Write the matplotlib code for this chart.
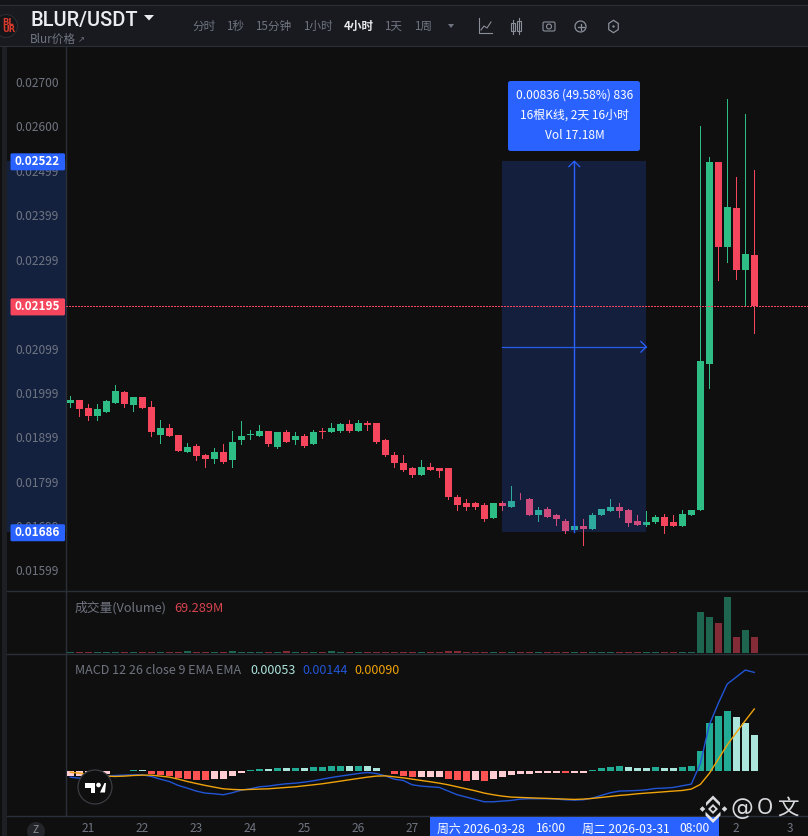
import numpy as np
import matplotlib
matplotlib.use("Agg")
import matplotlib.pyplot as plt
from matplotlib.patches import Rectangle, FancyBboxPatch, Circle, Polygon

plt.rcParams['font.family'] = ['Noto Sans CJK SC', 'DejaVu Sans']

# ---- data (prices in 1e-5 USDT) ----
opens = [1978,1985,1967,1949,1958,1978,2003,1972,1990,1969,1906,1922,1906,1868,1881,1859,1852,1866,1848,1893,
         1906,1904,1915,1879,1911,1893,1902,1884,1915,1911,1915,1929,1915,1933,1933,1893,1859,1843,1830,1816,
         1834,1830,1830,1766,1751,1753,1748,1719,1753,1744,1762,1762,1726,1739,1724,1712,1690,1701,1694,1724,
         1735,1744,1737,1712,1703,1708,1721,1710,1699,1726,1737,2066,2520,2330,2416,2276,2310]
highs = [1994,1985,1976,1976,1983,2019,2005,1990,1990,1981,1938,1929,1906,1888,1886,1863,1877,1884,1915,1936,
         1917,1927,1915,1911,1917,1911,1908,1917,1922,1933,1933,1938,1940,1936,1933,1897,1868,1861,1834,1848,
         1843,1830,1830,1769,1760,1755,1751,1751,1757,1791,1775,1764,1742,1742,1728,1715,1699,1715,1730,1739,
         1760,1751,1739,1724,1733,1724,1728,1726,1737,1737,2601,2531,2520,2662,2486,2628,2502]
lows = [1969,1947,1940,1940,1958,1978,1969,1960,1967,1904,1888,1904,1870,1866,1848,1832,1841,1841,1832,1884,
        1897,1904,1881,1875,1890,1886,1879,1884,1899,1911,1913,1913,1915,1917,1888,1857,1834,1823,1811,1816,
        1827,1811,1762,1737,1737,1739,1712,1719,1737,1742,1760,1726,1712,1721,1703,1685,1690,1658,1694,1724,
        1735,1721,1701,1703,1699,1706,1685,1701,1699,1726,1737,2010,2254,2296,2256,2197,2134]
closes = [1983,1963,1949,1963,1981,2005,1974,1990,1967,1913,1922,1904,1870,1879,1857,1850,1866,1845,1890,1904,
          1908,1915,1886,1911,1890,1904,1881,1913,1913,1922,1929,1915,1933,1927,1890,1859,1841,1827,1814,1834,
          1827,1823,1766,1748,1744,1744,1717,1751,1746,1757,1760,1726,1737,1721,1717,1688,1699,1694,1724,1739,
          1744,1735,1706,1703,1710,1721,1701,1701,1728,1737,2071,2520,2330,2418,2276,2314,2195]
volumes = [5,5,5,4.5,4.5,5,5,5,4.5,5,5,5,4.5,9,5,5,4.5,5,9,5,4.5,5,5,5,9,5,4.5,5,5,9,5,4.5,5,4.5,4.5,5,5,4.5,5,4.5,5,5,9,9,5,5,5,4.5,
           4.5,5,5,4.5,5,4.5,5,5,4.5,5,5,4.5,4.5,5,5,4.5,5,4.5,5,5,4.5,5,175.6,154.4,129,239,69.3,99,69.289]
macd_hist = [-7,-6,-5,-4.5,-3.5,1,1.2,2.4,2.2,-3.4,-4.8,-6.3,-9.2,-10.6,-12,-12.2,-10.6,-10.5,-6.3,-2,2.4,3.8,3.7,
             5.3,5.2,5.3,5.2,6.7,6.8,8.2,8.3,8.1,8.2,8.1,5.3,1,-3.4,-6.3,-8.7,-7.7,-7.6,-7.5,-10.6,-13,-13.5,-12,
             -13.5,-10.6,-7.7,-4.8,-3.4,-3.3,-2.4,-2.3,-2.2,-2.4,-2.3,-2.2,2.4,5.3,6.7,8.2,6.7,5.3,5.2,6.7,5.3,5.2,
             6.7,8.2,30,70,80,88,79,70,53]
macd_line = [-8.2,-9.6,-8.7,-7.2,-6.7,-5.8,-5.3,-4.8,-4.8,-7.2,-11.1,-14.5,-20.2,-24.1,-28.4,-31.3,-32.3,-33.7,-30.8,
             -27,-25.1,-22.2,-21.2,-19.3,-17.8,-16.9,-15.4,-13.5,-11.1,-8.7,-6.7,-4.8,-2.9,-1.4,-2.9,-6.3,-11.1,
             -13,-19.3,-21.2,-22.2,-23.1,-28.4,-33.7,-37.1,-40.5,-43.9,-43.9,-42.9,-41.9,-40,-39.5,-39.5,-39.5,-40,
             -41,-41.5,-41,-38.6,-34.7,-30.8,-28.4,-28,-27.5,-26.5,-24.6,-24.1,-23.1,-20.7,-18.3,11.1,67.5,98.8,
             126.8,136.9,147,143.6]
signal_line = [-1,-2.4,-3.9,-5.3,-6.7,-7.2,-6.7,-5.8,-5.3,-5.3,-6.7,-8.2,-11.1,-14.5,-17.4,-20.2,-22.7,-25.1,-26,-26.5,
               -26,-25.5,-25.1,-24.1,-23.1,-22.2,-20.7,-19.3,-17.8,-15.9,-14,-12,-10.1,-8.2,-6.7,-6.3,-7.7,-9.2,-11.1,
               -13,-14.9,-16.9,-19.3,-22.2,-25.1,-28,-31.3,-33.7,-35.7,-37.1,-37.6,-38.1,-38.6,-39,-39.5,-40,-40.5,
               -40,-39,-37.6,-36.2,-34.7,-33.7,-32.3,-31.3,-30.4,-29.4,-28.4,-27.5,-25.5,-18.8,-2.9,17.8,38.6,56.4,
               73.7,90.6]
price_ticks = ["0.02700","0.02600","0.02499","0.02399","0.02299","0.02099","0.01999","0.01899","0.01799","0.01699","0.01599"]
day_labels = ["21","22","23","24","25","26","27","2","3"]
day_bar_index = [2,8,14,20,26,32,38,74,80]
measure_bars = (48, 64)
measure_prices = (0.01686, 0.02522)
last_price = 0.02195

# ---- scales ----
P = 1e-5
o, h, l, c = [np.array(a) * P for a in (opens, highs, lows, closes)]
vol = np.array(volumes)
hist = np.array(macd_hist) * P
mline = np.array(macd_line) * P
sline = np.array(signal_line) * P
idx = np.arange(len(o))

BG = '#0f0f0f'
HEAD = '#181a20'
SEP = '#2b2f38'
GREEN = '#2ebd85'
RED = '#f6465d'
BLUE = '#2962ff'
GREY = '#6f7480'

W, H = 808, 836
fig = plt.figure(figsize=(W / 100, H / 100), dpi=100, facecolor=BG)

def pane(x0, y0, x1, y1, z=1):
    a = fig.add_axes([x0 / W, 1 - y1 / H, (x1 - x0) / W, (y1 - y0) / H], zorder=z)
    a.set_facecolor('none')
    a.set_xticks([]); a.set_yticks([])
    for s in a.spines.values():
        s.set_visible(False)
    return a

xlim = (-0.478, 81.97)
ax = pane(66, 45.5, 808, 589.5, 2)
ax.set_xlim(*xlim); ax.set_ylim(0.01557, 0.02783)
axv = pane(66, 590, 808, 653, 2)
axv.set_xlim(*xlim); axv.set_ylim(0, 268)
axm = pane(66, 653.5, 808, 816, 2)
axm.set_xlim(*xlim); axm.set_ylim(-64.5e-5, 171e-5)
ui = pane(0, 0, W, H, 3)
ui.set_xlim(0, W); ui.set_ylim(H, 0)
under = pane(0, 0, W, H, 0)
under.set_xlim(0, W); under.set_ylim(H, 0)

# candles
up = c >= o
cols = np.where(up, GREEN, RED)
bw = 7 / 9
ax.vlines(idx, l, h, colors=cols, lw=0.68, zorder=2, antialiased=False)
ax.bar(idx, np.maximum(np.abs(c - o), 2e-5), bottom=np.minimum(o, c), width=bw, color=cols, lw=0, zorder=3, antialiased=False)

# measure tool, in data coordinates
mx0, mx1 = measure_bars
my0, my1 = measure_prices
ax.add_patch(Rectangle((mx0, my0), mx1 - mx0, my1 - my0, facecolor=BLUE, alpha=0.2, lw=0, zorder=4))
midx = (mx0 + mx1) / 2
midy = (my0 + my1) / 2
ax.plot([midx, midx], [my0, my1], color=BLUE, lw=1.0, zorder=5)
ax.plot([mx0, mx1], [midy, midy], color=BLUE, lw=0.9, alpha=0.9, zorder=5)
ax.plot([midx - 0.6, midx, midx + 0.6], [my1 - 12e-5, my1, my1 - 12e-5], color=BLUE, lw=0.9, zorder=5)
ax.plot([mx1 - 0.6, mx1, mx1 - 0.6], [midy + 12e-5, midy, midy - 12e-5], color=BLUE, lw=0.9, zorder=5)
ax.axhline(last_price, color=RED, lw=0.7, ls=(0, (1.4, 1.69)), zorder=6, antialiased=False)

# volume
axv.bar(idx, vol, width=bw, color=np.where(up, '#1e6650', '#832c38'), lw=0, antialiased=False)

# macd histogram: colour follows sign and direction
rising = np.diff(hist, prepend=hist[0] - 1e-5) > 0
hc = np.where(hist >= 0, np.where(rising, '#22ab94', '#ace5dc'), np.where(rising, '#ffcdd2', '#ff5252'))
axm.bar(idx, hist, width=bw, color=hc, lw=0, zorder=2, antialiased=False)
axm.plot(idx, mline, color='#2155d6', lw=1.0, zorder=3)
axm.plot(idx, sline, color='#f0a30a', lw=1.0, zorder=4)

# ---- chrome ----
under.add_patch(Rectangle((0, 0), W, 46, color=HEAD, lw=0))
under.add_patch(Rectangle((0, 0), W, 5, color='#131519', lw=0))
under.plot([0, W], [5, 5], color=SEP, lw=0.8)
under.plot([0, W], [45.5, 45.5], color=SEP, lw=0.8)
under.add_patch(Rectangle((2, 46), 5, 790, color='#1d1f24', lw=0))
under.plot([65.5, 65.5], [46, 816], color=SEP, lw=1)
under.plot([7, W], [590.5, 590.5], color=SEP, lw=1)
under.plot([7, W], [653.5, 653.5], color=SEP, lw=1)
under.plot([7, W], [816, 816], color='#2b2f3b', lw=1)
under.add_patch(Rectangle((7, 161), 58.5, 371, facecolor='#13213f', lw=0))

def ypx(p):
    return H - ax.transData.transform((0, p))[1]

for t in price_ticks:
    under.text(59, ypx(float(t)) + 1, t, color=GREY, fontsize=8.6, ha='right', va='center', zorder=2)

def badge(p, col):
    y = ypx(p) + 0.5
    ui.add_patch(FancyBboxPatch((10.5, y - 8.5), 54.5, 17, boxstyle='round,pad=0,rounding_size=1.5', fc=col, ec='none', zorder=8))
    ui.text(37.5, y, f"{p:.5f}", color='white', fontsize=8.4, fontweight='bold', ha='center', va='center', zorder=9)
badge(measure_prices[1], BLUE)
badge(last_price, RED)
badge(measure_prices[0], BLUE)

for lab, i in zip(day_labels, day_bar_index):
    xp = ax.transData.transform((i, 0))[0]
    ui.text(xp, 829, lab, color=GREY, fontsize=8.6, ha='center', va='center', zorder=2)
ui.add_patch(Circle((36, 831), 9, fc='#23252a', ec='none', zorder=2))
ui.text(36, 830, "Z", color='#8a8e97', fontsize=7.5, ha='center', va='center', zorder=3)

# date band
ui.add_patch(Rectangle((430, 816.5), 289, 20, fc=BLUE, ec='none', zorder=5))
ui.text(481, 829, "周六 2026-03-28", color='white', fontsize=8.6, ha='center', va='center', zorder=6)
ui.text(551, 829, "16:00", color='white', fontsize=8.6, ha='center', va='center', zorder=6)
ui.text(626, 829, "周二 2026-03-31", color='white', fontsize=8.6, ha='center', va='center', zorder=6)
ui.text(695, 829, "08:00", color='white', fontsize=8.6, ha='center', va='center', zorder=6)

# tooltip
ui.add_patch(FancyBboxPatch((508, 81), 132, 70, boxstyle='round,pad=0,rounding_size=2.5', fc=BLUE, ec='none', zorder=7))
for yy, s in zip((95.5, 115.5, 135.5), ("0.00836 (49.58%) 836", "16根K线, 2天 16小时", "Vol 17.18M")):
    ui.text(574.5, yy, s, color='white', fontsize=8.6, ha='center', va='center', zorder=8)

# header
ui.text(30, 20.5, "BLUR/USDT", color='#eaecef', fontsize=14.4, family='Roboto', fontweight='medium', ha='left', va='center')
ui.add_patch(Polygon([[144, 15], [154, 15], [149, 20.5]], fc='#eaecef', ec='none'))
ui.text(30, 39, "Blur价格", color=GREY, fontsize=8.4, ha='left', va='center')
ui.text(81, 40, "↗", color=GREY, fontsize=6, family='DejaVu Sans', ha='center', va='center')
tabs = [("分时", 204), ("1秒", 235), ("15分钟", 273), ("1小时", 318), ("4小时", 359), ("1天", 393), ("1周", 423)]
for s, xp in tabs:
    active = s == "4小时"
    ui.text(xp, 26.5, s, color='#e6e8ea' if active else '#6f7480', fontsize=8.4,
            fontweight='bold' if active else 'normal', ha='center', va='center')
ui.add_patch(Polygon([[448, 24], [454, 24], [451, 28]], fc=GREY, ec='none'))
# toolbar icons
ic = '#8b8f99'
ui.plot([479, 479, 492], [18, 33, 33], color=ic, lw=0.8)
ui.plot([481, 484, 487, 491], [30, 26, 28, 22], color=ic, lw=0.8)
for xb, yb, hb in ((512.5, 23, 8), (518.5, 21, 10)):
    ui.add_patch(Rectangle((xb - 2, yb), 4, hb, fc='none', ec=ic, lw=0.8))
    ui.plot([xb, xb], [yb - 3, yb + hb + 3], color=ic, lw=0.8)
ui.add_patch(FancyBboxPatch((543, 22), 12, 9, boxstyle='round,pad=0,rounding_size=1.5', fc='none', ec=ic, lw=0.8))
ui.add_patch(Circle((549, 26.5), 2.5, fc='none', ec=ic, lw=0.8))
ui.add_patch(Circle((580.5, 26.5), 5.5, fc='none', ec=ic, lw=0.9))
ui.plot([577.5, 583.5], [26.5, 26.5], color=ic, lw=0.9)
ui.plot([580.5, 580.5], [23.5, 29.5], color=ic, lw=0.9)
hexa = [[613.5 + 5.5 * np.sin(a), 26.5 - 6.2 * np.cos(a)] for a in np.arange(6) * np.pi / 3]
ui.add_patch(Polygon(hexa, fc='none', ec=ic, lw=0.9))
ui.add_patch(Circle((613.5, 26.5), 1.2, fc=ic, ec='none'))
# coin logo
ui.add_patch(Circle((6, 26), 11.5, fc='#15161a', ec='#2a2c31', lw=0.8))
ui.text(8.5, 26, "BL\nUR", color='#d93a2b', fontsize=6, fontweight='bold', linespacing=0.85, ha='center', va='center', family='DejaVu Sans')

# pane legends
ui.text(75, 608, "成交量(Volume)", color=GREY, fontsize=9.2, ha='left', va='center')
ui.text(174, 608, "69.289M", color='#d8434f', fontsize=9.2, ha='left', va='center')
ui.text(75, 670.5, "MACD 12 26 close 9 EMA EMA", color=GREY, fontsize=9, ha='left', va='center')
ui.text(250, 670.5, f"{hist[-1]:.5f}", color='#ace5dc', fontsize=9, ha='left', va='center')
ui.text(302, 670.5, "0.00144", color='#2155d6', fontsize=9, ha='left', va='center')
ui.text(354, 670.5, "0.00090", color='#f0a30a', fontsize=9, ha='left', va='center')

# TradingView badge
ui.add_patch(Circle((95, 787), 17, fc='#0f0f0f', ec='#3a3c42', lw=0.9, zorder=6))
ui.add_patch(Polygon([[84.5, 783], [95, 783], [95, 792.5], [90.5, 792.5], [90.5, 787.5], [84.5, 787.5]], fc='white', ec='none', zorder=7))
ui.add_patch(Circle((98.5, 785), 2.3, fc='white', ec='none', zorder=7))
ui.add_patch(Polygon([[100, 792.5], [104.5, 783], [106, 783], [105, 792.5]], fc='white', ec='none', zorder=7))

# watermark
wm = '#d8dade'
def diamond(cx, cy, r, col=wm):
    ui.add_patch(Polygon([[cx - r, cy], [cx, cy - r], [cx + r, cy], [cx, cy + r]], fc=col, ec='none', zorder=10))
def chevron(cx, tipy, arm, thick, sign, col=wm):
    pts = [[cx - arm, tipy - sign * arm], [cx, tipy], [cx + arm, tipy - sign * arm],
           [cx + arm, tipy - sign * (arm + thick)], [cx, tipy - sign * thick], [cx - arm, tipy - sign * (arm + thick)]]
    ui.add_patch(Polygon(pts, fc=col, ec='none', zorder=10))
chevron(713, 795.5, 7, 3.6, -1)
chevron(713, 823, 7.5, 3.8, 1, '#e4e6ea')
diamond(713, 809, 5)
diamond(713, 809, 2.4, '#0f0f0f')
diamond(702.5, 809, 2.8)
diamond(724.5, 809, 2.8)
ui.text(742, 808.5, "@", color=wm, fontsize=16.5, family='DejaVu Sans', ha='center', va='center', zorder=10)
ui.text(765, 808.5, "O", color=wm, fontsize=15, family='Noto Sans', ha='center', va='center', zorder=10)
ui.text(788, 808.5, "文", color=wm, fontsize=15.5, ha='center', va='center', zorder=10)

fig.savefig("out.png", dpi=100, facecolor=BG)
